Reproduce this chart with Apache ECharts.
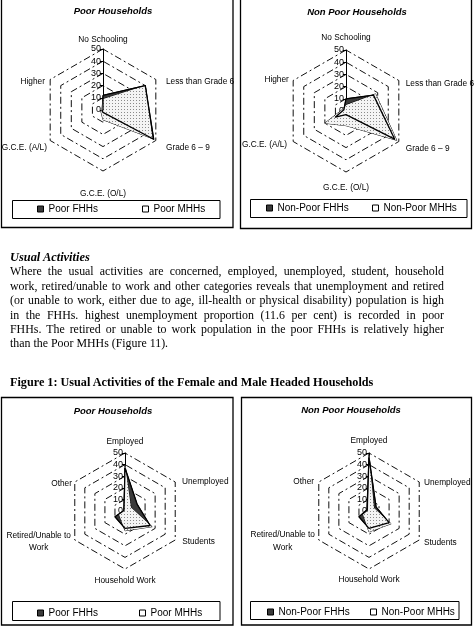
<!DOCTYPE html>
<html>
<head>
<meta charset="utf-8">
<script src="https://cdn.jsdelivr.net/npm/echarts@6/dist/echarts.min.js"></script>
<style>
html,body{margin:0;padding:0;background:#fff;width:474px;height:640px;overflow:hidden;}
#chart{position:absolute;left:0;top:0;width:474px;height:640px;}
#para{position:absolute;left:10px;top:250px;width:434px;font-family:'Liberation Serif','Times New Roman',serif;font-size:11.9px;line-height:14.4px;color:#000;}
#para .h{font-weight:bold;font-style:italic;font-size:12.4px;}
#para .j{text-align:justify;text-align-last:justify;}
#cap{position:absolute;left:10px;top:375px;font-family:'Liberation Serif','Times New Roman',serif;font-size:12.2px;font-weight:bold;color:#000;white-space:nowrap;}
</style>
</head>
<body>
<div id="chart"></div>
<div id="para">
<div class="h">Usual Activities</div>
<div class="j">Where the usual activities are concerned, employed, unemployed, student, household</div>
<div class="j">work, retired/unable to work and other categories reveals that unemployment and retired</div>
<div class="j">(or unable to work, either due to age, ill-health or physical disability) population is high</div>
<div class="j">in the FHHs. highest unemployment proportion (11.6 per cent) is recorded in poor</div>
<div class="j">FHHs. The retired or unable to work population in the poor FHHs is relatively higher</div>
<div>than the Poor MHHs (Figure 11).</div>
</div>
<div id="cap">Figure 1: Usual Activities of the Female and Male Headed Households</div>
<script>
// ---- data ----
const eduCategories = ['No Schooling', 'Less than Grade 6', 'Grade 6 \u2013 9', 'G.C.E. (O/L)', 'G.C.E. (A/L)', 'Higher'];
const actCategories = ['Employed', 'Unemployed', 'Students', 'Household Work', 'Retired/Unable to\nWork', 'Other'];
const tickMin = 0;
const tickMax = 50;
const tickStep = 10;

const poorEduFHH = [12, 40, 48, 2, 1, 0];
const poorEduMHH = [9, 40, 47, 8, 2, 1];
const nonPoorEduFHH = [10, 26, 46, 3, 10, 2];
const nonPoorEduMHH = [5, 28, 48, 12, 20, 3];

const poorActFHH = [37, 12, 25, 15, 10, 1];
const poorActMHH = [40, 6, 27, 17, 6, 1];
const nonPoorActFHH = [46, 7, 20, 15, 10, 2];
const nonPoorActMHH = [49, 5, 22, 18, 6, 1];

const panelTitles = ['Poor Households', 'Non Poor Households', 'Poor Households', 'Non Poor Households'];
const legendNames = [['Poor FHHs', 'Poor MHHs'], ['Non-Poor FHHs', 'Non-Poor MHHs']];

// ---- layout/style ----
const SANS = "'Liberation Sans',Arial,sans-serif";
const NAME_SIZE = 8.3;
const FHH_FILL = '#3a3a3a';

// stipple pattern for the MHH area (dotted fill as in the original)
const dotCanvas = document.createElement('canvas');
dotCanvas.width = 3; dotCanvas.height = 3;
(function () {
  const c = dotCanvas.getContext('2d');
  c.fillStyle = '#f4f4f4'; c.fillRect(0, 0, 3, 3);
  c.fillStyle = '#8a8a8a'; c.fillRect(1, 1, 1, 1);
})();
const MHH_FILL = { image: dotCanvas, repeat: 'repeat' };

// reorder categories for the library's indicator sequence (first at top, rest reversed)
function ccw(arr) { return [arr[0]].concat(arr.slice(1).reverse()); }

// cfg.gaps / cfg.shifts: axis-name gap and vertical nudge per category (clockwise order)
function makeRadar(cats, center, radius, cfg) {
  const names = ccw(cats);
  const gaps = ccw(cfg.gaps);
  const shifts = ccw(cfg.shifts);
  const rich = { q: { align: 'center', fontSize: NAME_SIZE, fontFamily: SANS, color: '#000', lineHeight: 12 } };
  names.forEach((n, i) => {
    const s = shifts[i];
    rich['p' + i] = {
      align: 'center', fontSize: NAME_SIZE, fontFamily: SANS, color: '#000', lineHeight: 12,
      padding: s >= 0 ? [2 * s, 0, 0, 0] : [0, 0, -2 * s, 0]
    };
  });
  return {
    center: center,
    radius: radius,
    shape: 'polygon',
    startAngle: 90,
    splitNumber: (tickMax - tickMin) / tickStep,
    indicator: names.map((n, i) => {
      const ind = { name: n, min: tickMin, max: tickMax, nameGap: gaps[i] };
      if (i === 0) {
        ind.axisLabel = { show: true };
        ind.axisLine = { show: true };
        ind.axisTick = { show: true };
      }
      return ind;
    }),
    axisName: {
      color: '#000', fontSize: NAME_SIZE, fontFamily: SANS, rich: rich,
      formatter: function (name) {
        const i = names.indexOf(name);
        return name.split('\n').map((l, k) => (k === 0 ? '{p' + i + '|' : '{q|') + l + '}').join('\n');
      }
    },
    nameGap: 7,
    axisLine: { show: false, lineStyle: { color: '#000', width: 1 } },
    axisTick: { show: false, length: 3, lineStyle: { color: '#000' } },
    axisLabel: { show: false, color: '#000', fontSize: 9, fontFamily: SANS, margin: 2 },
    splitLine: { lineStyle: { color: '#111', width: 1, type: [7, 3, 2, 3] } },
    splitArea: { show: false }
  };
}

function makeSeries(idx, names, fhh, mhh) {
  return [
    {
      type: 'radar', radarIndex: idx, symbol: 'none',
      data: [
        { name: names[0], value: ccw(fhh), itemStyle: { color: FHH_FILL },
          lineStyle: { color: '#000', width: 1 }, areaStyle: { color: FHH_FILL, opacity: 1 } },
        { name: names[1], value: ccw(mhh), itemStyle: { color: '#ffffff' },
          lineStyle: { color: '#000', width: 1 }, areaStyle: { color: MHH_FILL, opacity: 1 } }
      ]
    },
    {
      type: 'radar', radarIndex: idx, symbol: 'none', silent: true,
      data: [
        { name: names[0], value: ccw(fhh), itemStyle: { color: FHH_FILL },
          lineStyle: { color: '#000', width: 1.3 } }
      ]
    }
  ];
}

function makeLegend(name, left, top) {
  return {
    data: [name], left: left, top: top, orient: 'horizontal',
    padding: 0, itemWidth: 6, itemHeight: 6, icon: 'rect',
    selectedMode: false,
    itemStyle: { borderColor: '#000', borderWidth: 1 },
    textStyle: { color: '#000', fontSize: 10, fontFamily: SANS }
  };
}

function box(x, y, w, h, lw) {
  return { type: 'rect', silent: true, shape: { x: x, y: y, width: w, height: h },
    style: { fill: 'none', stroke: '#000', lineWidth: lw } };
}
function title(text, x, y) {
  return { type: 'text', silent: true, x: x, y: y,
    style: { text: text, fill: '#000', font: "italic bold 9.5px " + SANS, textAlign: 'center', textVerticalAlign: 'middle' } };
}

const chart = echarts.init(document.getElementById('chart'), null, { renderer: 'canvas', width: 474, height: 640 });
chart.setOption({
  backgroundColor: '#fff',
  animation: false,
  radar: [
    makeRadar(eduCategories, [103, 110], 61, { gaps: [3, 11.7, 11.7, 17, 3.7, 6], shifts: [0, 8.4, 1.6, 0, 5.7, 5.5] }),
    makeRadar(eduCategories, [346, 111], 61, { gaps: [6, 8, 8, 10, 7, 5], shifts: [0, 7, 3, 0, 0, 2] }),
    makeRadar(actCategories, [125, 511], 58, { gaps: [5, 7.8, 8, 6, 4.4, 3.2], shifts: [0, 4, -2, 0, 0, 3] }),
    makeRadar(actCategories, [369, 511], 58, { gaps: [6, 5.5, 5.5, 5, 4.4, 5.5], shifts: [0, 3, 0, 0, -1.7, 2] })
  ],
  legend: [
    makeLegend(legendNames[0][0], 37, 204),
    makeLegend(legendNames[0][1], 142, 204),
    makeLegend(legendNames[1][0], 266, 203),
    makeLegend(legendNames[1][1], 372, 203),
    makeLegend(legendNames[0][0], 37, 608),
    makeLegend(legendNames[0][1], 139, 608),
    makeLegend(legendNames[1][0], 267, 607),
    makeLegend(legendNames[1][1], 370, 607)
  ],
  series: [].concat(
    makeSeries(0, legendNames[0], poorEduFHH, poorEduMHH),
    makeSeries(1, legendNames[1], nonPoorEduFHH, nonPoorEduMHH),
    makeSeries(2, legendNames[0], poorActFHH, poorActMHH),
    makeSeries(3, legendNames[1], nonPoorActFHH, nonPoorActMHH)
  ),
  graphic: [
    box(1.5, -5, 231.5, 232.5, 1.3),
    box(240.5, -5, 231, 233.5, 1.3),
    box(1.5, 397.5, 231.5, 227.5, 1.3),
    box(241.5, 397.5, 230, 227.5, 1.3),
    box(12.5, 200.5, 207.5, 18, 1),
    box(250.5, 199.5, 216.5, 18, 1),
    box(12.5, 601.5, 207.5, 19, 1),
    box(250.5, 601.5, 208.5, 18, 1),
    title(panelTitles[0], 113, 11),
    title(panelTitles[1], 357, 12),
    title(panelTitles[2], 113, 411),
    title(panelTitles[3], 351, 410)
  ]
});
</script>
</body>
</html>
